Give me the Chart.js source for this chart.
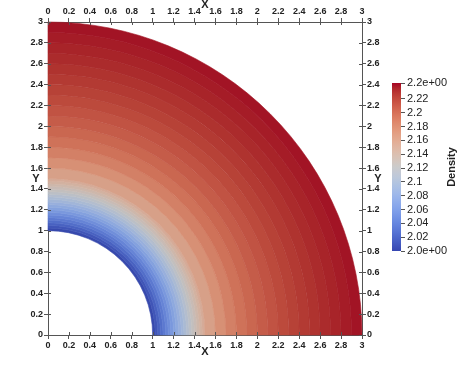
<!DOCTYPE html>
<html>
<head>
<meta charset="utf-8">
<script src="https://cdn.jsdelivr.net/npm/chart.js@4.4.1/dist/chart.umd.min.js"></script>
<style>
  body { margin: 0; background: #fff; }
  #wrap { position: relative; width: 474px; height: 366px; }
  #main { position: absolute; left: 0; top: 0; }
  #bar { position: absolute; left: 380px; top: 70px; }
</style>
</head>
<body>
<div id="wrap">
  <canvas id="main" width="474" height="366"></canvas>
  <canvas id="bar" width="94" height="200"></canvas>
</div>
<script>
// axis ticks (same for X and Y)
const axisTicks = [0, 0.2, 0.4, 0.6, 0.8, 1, 1.2, 1.4, 1.6, 1.8, 2, 2.2, 2.4, 2.6, 2.8, 3];
const axisLabels = ["0", "0.2", "0.4", "0.6", "0.8", "1", "1.2", "1.4", "1.6", "1.8", "2", "2.2", "2.4", "2.6", "2.8", "3"];

// radial cell edges and density per ring
const ringEdges = [1, 1.025, 1.05, 1.075, 1.1, 1.125, 1.15, 1.175, 1.2, 1.225, 1.25,
  1.275, 1.3, 1.325, 1.35, 1.375, 1.4, 1.425, 1.45, 1.475, 1.5,
  1.6, 1.7, 1.8, 1.9, 2, 2.1, 2.2, 2.3, 2.4, 2.5, 2.6, 2.7, 2.8, 2.9, 3];
const ringDensity = [2.004, 2.012, 2.020, 2.028, 2.036, 2.044, 2.052, 2.060, 2.068, 2.076,
  2.084, 2.092, 2.100, 2.108, 2.116, 2.123, 2.130, 2.137, 2.144, 2.151,
  2.162, 2.175, 2.186, 2.195, 2.202, 2.208, 2.213, 2.218, 2.222, 2.226,
  2.229, 2.232, 2.235, 2.237, 2.239];

// colour bar
const densityMin = 2.0;
const densityMax = 2.243;
const barTicks = [2.0, 2.02, 2.04, 2.06, 2.08, 2.1, 2.12, 2.14, 2.16, 2.18, 2.2, 2.22, 2.243];
const barLabels = ["2.0e+00", "2.02", "2.04", "2.06", "2.08", "2.1", "2.12", "2.14", "2.16", "2.18", "2.2", "2.22", "2.2e+00"];

// cool to warm
const coolWarm = [
  [59,76,192],[68,90,204],[77,104,215],[87,117,225],[98,130,234],[108,142,241],[119,154,247],
  [130,165,251],[141,176,254],[152,185,255],[163,194,255],[174,201,253],[184,208,249],
  [194,213,244],[204,217,238],[213,219,230],[221,221,221],[229,216,209],[236,211,197],
  [241,204,185],[245,196,173],[247,187,160],[247,177,148],[247,166,135],[244,154,123],
  [241,141,111],[236,127,99],[229,112,88],[222,96,77],[213,80,66],[203,62,56],[192,40,47],[180,4,38]
];

function cmapRGB(t, shade) {
  t = Math.max(0, Math.min(1, t)) * (coolWarm.length - 1);
  const i = Math.min(Math.floor(t), coolWarm.length - 2);
  const f = t - i;
  const a = coolWarm[i], b = coolWarm[i + 1];
  const c = a.map((x, k) => Math.round((x + (b[k] - x) * f) * shade));
  return "rgb(" + c.join(",") + ")";
}

function cmap(v, shade) {
  return cmapRGB((v - densityMin) / (densityMax - densityMin), shade);
}

const tickFont = { family: "Liberation Sans", size: 9, weight: "bold" };
const ink = "#222";
const axisColor = "#555";

function axis(pos, size) {
  return {
    type: "linear",
    axis: (pos === "top" || pos === "bottom") ? "x" : "y",
    position: pos,
    min: 0,
    max: 3,
    afterBuildTicks: (s) => { s.ticks = axisTicks.map((v) => ({ value: v })); },
    afterFit: (s) => {
      if (s.isHorizontal()) s.height = size; else s.width = size;
    },
    ticks: {
      callback: (v, i) => axisLabels[i],
      font: tickFont,
      color: ink,
      padding: 1,
      autoSkip: false,
      maxRotation: 0,
    },
    grid: { drawOnChartArea: false, tickLength: 4, color: axisColor },
    border: { color: axisColor },
  };
}

const ringsPlugin = {
  id: "rings",
  beforeDatasetsDraw(chart) {
    const ctx = chart.ctx;
    const xs = chart.scales.x, ys = chart.scales.y;
    const cx = xs.getPixelForValue(0), cy = ys.getPixelForValue(0);
    ctx.save();
    for (let i = 0; i < ringDensity.length; i++) {
      const r0 = ringEdges[i], r1 = ringEdges[i + 1];
      const rx0 = xs.getPixelForValue(r0) - cx, ry0 = cy - ys.getPixelForValue(r0);
      const rx1 = xs.getPixelForValue(r1) - cx, ry1 = cy - ys.getPixelForValue(r1);
      ctx.beginPath();
      ctx.ellipse(cx, cy, rx1, ry1, 0, 0, -Math.PI / 2, true);
      ctx.ellipse(cx, cy, rx0, ry0, 0, -Math.PI / 2, 0, false);
      ctx.closePath();
      ctx.fillStyle = cmap(ringDensity[i], 0.87);
      ctx.strokeStyle = ctx.fillStyle;
      ctx.lineWidth = 0.6;
      ctx.fill();
      ctx.stroke();
    }
    ctx.restore();
  },
  afterDraw(chart) {
    const ctx = chart.ctx;
    const a = chart.chartArea;
    ctx.save();
    // inner half of the tick marks
    ctx.strokeStyle = axisColor;
    ctx.lineWidth = 1;
    ["x", "x2", "y", "y2"].forEach((id) => {
      const s = chart.scales[id];
      s.ticks.forEach((t) => {
        const p = Math.round(s.getPixelForValue(t.value)) + 0.5;
        ctx.beginPath();
        if (id === "x") { ctx.moveTo(p, a.bottom); ctx.lineTo(p, a.bottom - 3); }
        if (id === "x2") { ctx.moveTo(p, a.top); ctx.lineTo(p, a.top + 3); }
        if (id === "y") { ctx.moveTo(a.left, p); ctx.lineTo(a.left + 3, p); }
        if (id === "y2") { ctx.moveTo(a.right, p); ctx.lineTo(a.right - 3, p); }
        ctx.stroke();
      });
    });
    // axis titles
    ctx.fillStyle = ink;
    ctx.font = "bold 11px 'Liberation Sans'";
    ctx.textAlign = "center";
    ctx.textBaseline = "middle";
    const mx = (a.left + a.right) / 2, my = (a.top + a.bottom) / 2;
    ctx.fillText("X", mx, 5);
    ctx.fillText("X", mx, 352);
    ctx.fillText("Y", 36, my);
    ctx.fillText("Y", a.right + 16, my);
    ctx.restore();
  },
};

new Chart(document.getElementById("main"), {
  type: "scatter",
  data: { datasets: [{ data: [] }] },
  options: {
    responsive: false,
    animation: false,
    layout: { padding: { left: 0, top: 0, bottom: 0, right: 82 } },
    plugins: { legend: { display: false }, tooltip: { enabled: false } },
    scales: {
      x: axis("bottom", 31),
      x2: axis("top", 22),
      y: axis("left", 48),
      y2: axis("right", 30),
    },
  },
  plugins: [ringsPlugin],
});

const titlePlugin = {
  id: "cbTitle",
  afterDraw(chart) {
    const ctx = chart.ctx;
    ctx.save();
    ctx.translate(72, 97);
    ctx.rotate(-Math.PI / 2);
    ctx.fillStyle = ink;
    ctx.font = "bold 11px 'Liberation Sans'";
    ctx.textAlign = "center";
    ctx.textBaseline = "middle";
    ctx.fillText("Density", 0, 0);
    ctx.restore();
  },
};

new Chart(document.getElementById("bar"), {
  type: "bar",
  data: {
    labels: ["Density"],
    datasets: [{
      data: [[densityMin, densityMax]],
      borderWidth: 0,
      barPercentage: 1,
      categoryPercentage: 1,
      backgroundColor: (c) => {
        const a = c.chart.chartArea;
        if (!a) return "#ccc";
        const g = c.chart.ctx.createLinearGradient(0, a.bottom, 0, a.top);
        for (let i = 0; i <= 32; i++) {
          g.addColorStop(i / 32, cmapRGB(i / 32, 0.92));
        }
        return g;
      },
    }],
  },
  options: {
    responsive: false,
    animation: false,
    layout: { padding: { left: 12, top: 13, bottom: 19, right: 0 } },
    plugins: { legend: { display: false }, tooltip: { enabled: false } },
    scales: {
      x: { display: false },
      y: {
        position: "right",
        min: densityMin,
        max: densityMax,
        afterBuildTicks: (s) => { s.ticks = barTicks.map((v) => ({ value: v })); },
        afterFit: (s) => { s.width = 73; },
        ticks: {
          callback: (v, i) => barLabels[i],
          font: { family: "Liberation Sans", size: 11 },
          color: ink,
          padding: 2,
          autoSkip: false,
        },
        grid: { drawOnChartArea: false, tickLength: 4, color: axisColor },
        border: { display: false },
      },
    },
  },
  plugins: [titlePlugin],
});
</script>
</body>
</html>
